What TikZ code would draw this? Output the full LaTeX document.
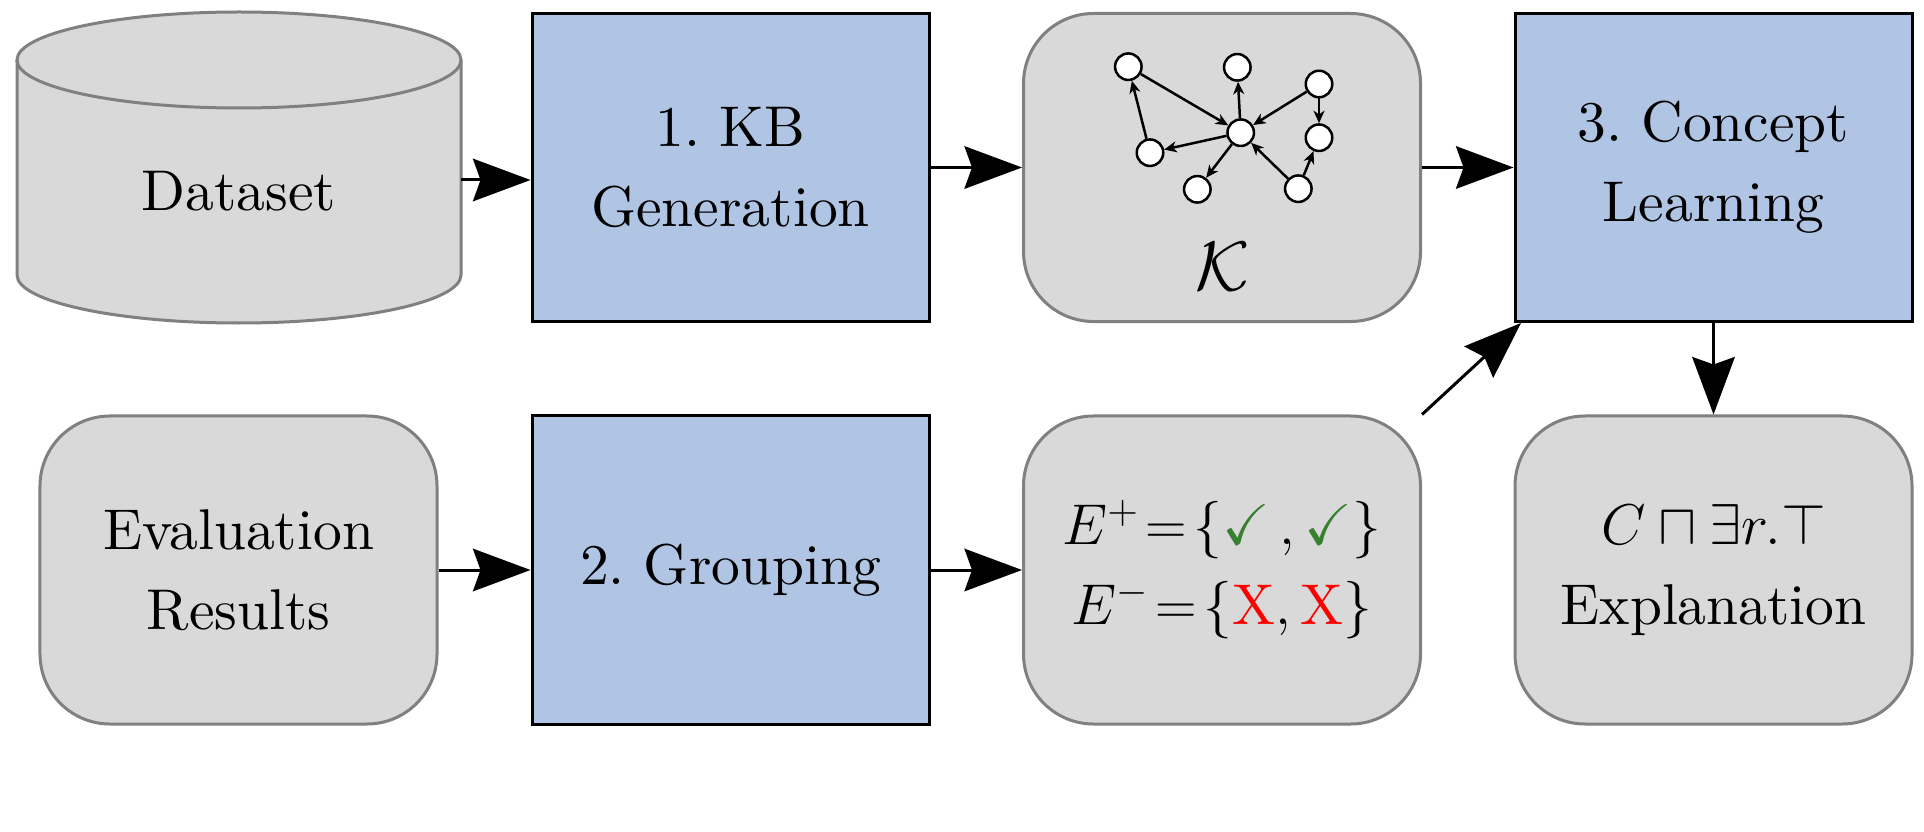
\RequirePackage{fix-cm}
\documentclass[tikz,border=0pt]{standalone}
\usepackage{amsmath,amsfonts,amssymb,xcolor}
\usepackage{fontspec}
\setmainfont{lmroman10-regular.otf}[BoldFont=lmroman10-bold.otf, ItalicFont=lmroman10-italic.otf]
\usepackage{tikz}
\usetikzlibrary{arrows.meta}
\frenchspacing

\definecolor{boxblue}{RGB}{176,196,228}
\definecolor{boxgray}{RGB}{217,217,217}
\definecolor{linegray}{RGB}{128,128,128}
\definecolor{okgreen}{RGB}{56,128,48}

\begin{document}
\begin{tikzpicture}[x=0.4pt, y=0.4pt,
    bluebox/.style={draw=black, fill=boxblue, line width=1.2pt, minimum width=158.8pt,
      minimum height=123.2pt, align=center, font=\fontsize{23}{32}\selectfont},
    graybox/.style={bluebox, draw=linegray, fill=boxgray, rounded corners=28pt},
    flow/.style={-{Stealth[length=23pt,width=17pt,inset=3pt]}, line width=1.2pt},
    gnode/.style={circle, draw, fill=white, line width=1pt, inner sep=0pt, minimum size=10.6pt},
    gedge/.style={-{Stealth[length=5pt,width=4.4pt,inset=1.5pt]}, line width=1pt}]

    \useasboundingbox (0,0) rectangle (1924,-832);

    % dataset cylinder
    \filldraw[fill=boxgray, draw=linegray, line width=1.2pt] (17,-60) -- (17,-275)
      arc[start angle=180, end angle=360, x radius=88.8pt, y radius=19.2pt] -- (461,-60)
      arc[start angle=0, end angle=180, x radius=88.8pt, y radius=19.2pt] -- cycle;
    \draw[linegray, line width=1.2pt] (17,-60)
      arc[start angle=180, end angle=360, x radius=88.8pt, y radius=19.2pt];

    \node[minimum width=177.6pt, outer sep=0pt, font=\fontsize{23}{32}\selectfont] (a) at (239,-191) {Dataset};
    \node[bluebox] (b) at (730.5,-167.5) {1. KB\\Generation};
    \node[graybox] (c) at (1222,-167.5) {};
    \node[bluebox] (d) at (1713.5,-167.5) {3. Concept\\Learning};
    \node[graybox] (e) at (238.5,-570) {Evaluation\\Results};
    \node[bluebox] (f) at (730.5,-570) {2. Grouping};
    \node[graybox] (g) at (1222,-570) {$E^{+}\!=\!\{\textcolor{okgreen}{\checkmark}\,,\textcolor{okgreen}{\checkmark}\}$\\
      $E^{-}\!=\!\{\textcolor{red}{\mathrm{X}},\textcolor{red}{\mathrm{X}}\}$};
    \node[graybox] (h) at (1713.5,-570) {$C\sqcap\exists r.\top$\\Explanation};
    \coordinate (a1) at ([yshift=4.4pt]a.east);

    % knowledge base graph
    \node[font=\fontsize{28}{34}\selectfont] (k) at (1223,-267) {$\mathcal{K}$};
    \node[gnode] (p1) at (1128.3,-66.7) {};
    \node[gnode] (p2) at (1237.3,-67.3) {};
    \node[gnode] (p3) at (1319,-84) {};
    \node[gnode] (p4) at (1240.7,-132.7) {};
    \node[gnode] (p5) at (1319,-137.7) {};
    \node[gnode] (p6) at (1150,-152.7) {};
    \node[gnode] (p7) at (1197.3,-189.3) {};
    \node[gnode] (p8) at (1298.3,-188.7) {};

    \draw [gedge] (p1) to (p4);
    \draw [gedge] (p6) to (p1);
    \draw [gedge] (p4) to (p6);
    \draw [gedge] (p4) to (p2);
    \draw [gedge] (p3) to (p4);
    \draw [gedge] (p4) to (p7);
    \draw [gedge] (p8) to (p4);
    \draw [gedge] (p3) to (p5);
    \draw [gedge] (p8) to (p5);

    \draw [flow] (a1) to (a1 -| b.west);
    \draw [flow] (b) to (c);
    \draw [flow] (c) to (d);
    \draw [flow] (d) to (h);
    \draw [flow] (e) to (f);
    \draw [flow] (f) to (g);
    \draw [flow] (g.north east) to ([xshift=3pt]d.south west);

\end{tikzpicture}
\end{document}
